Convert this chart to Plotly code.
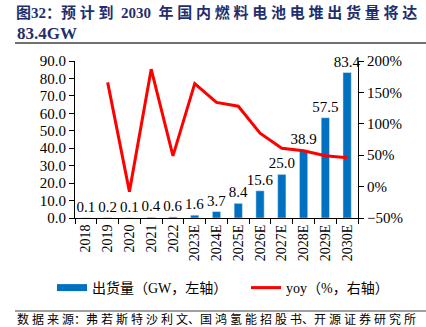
import plotly.graph_objects as go

categories = ["2018", "2019", "2020", "2021", "2022", "2023E", "2024E", "2025E",
              "2026E", "2027E", "2028E", "2029E", "2030E"]
shipments = [0.1, 0.2, 0.1, 0.4, 0.6, 1.6, 3.7, 8.4, 15.6, 25.0, 38.9, 57.5, 83.4]
yoy_cats = categories[1:]
yoy = [166, -8, 187, 49, 164, 134, 128, 85, 61, 57, 49, 46]

serif = "Times New Roman, Liberation Serif, Noto Sans CJK SC, serif"
cjk = "Liberation Serif, Noto Sans CJK SC, serif"
BLUE = "#0070C0"
RED = "#FF0000"

fig = go.Figure()
fig.add_trace(go.Bar(
    x=categories, y=shipments, name="出货量（GW，左轴）", showlegend=False,
    marker=dict(color=BLUE),
    text=[f"{v:.1f}" for v in shipments], textposition="outside",
    textfont=dict(family=serif, size=15, color="black"),
    constraintext="none", cliponaxis=False, yaxis="y",
))
# legend proxy for the bar series (wide rectangle swatch)
fig.add_trace(go.Scatter(
    x=[None], y=[None], name="出货量（GW，左轴）", mode="lines",
    line=dict(color=BLUE, width=7), legend="legend", yaxis="y",
))
fig.add_trace(go.Scatter(
    x=yoy_cats, y=yoy, name="yoy（%，右轴）", mode="lines",
    line=dict(color=RED, width=3), yaxis="y2", legend="legend2",
))

leg_common = dict(orientation="h", yanchor="middle", y=(218 - 288) / 157,
                  xanchor="left", font=dict(family=cjk, size=14, color="black"),
                  itemwidth=30, bgcolor="rgba(0,0,0,0)")

fig.update_layout(
    width=426, height=327, margin=dict(l=75, r=68, t=61, b=109),
    plot_bgcolor="white", paper_bgcolor="white",
    font=dict(family=serif, size=15, color="black"),
    bargap=0.62,
    showlegend=True,
    legend=dict(x=(52 - 75) / 283, **leg_common),
    legend2=dict(x=(246 - 75) / 283, **leg_common),
    xaxis=dict(type="category", showline=True, linecolor="black", linewidth=1,
               ticks="outside", tickson="boundaries", ticklen=5, tickcolor="black",
               tickangle=-90, tickfont=dict(family=serif, size=14), showgrid=False),
    yaxis=dict(range=[0, 90], dtick=10, tickformat=".1f", showline=True,
               linecolor="black", linewidth=1, ticks="outside", ticklen=5,
               tickcolor="black", showgrid=False, zeroline=False,
               tickfont=dict(family=serif, size=15)),
    yaxis2=dict(range=[-50, 200], dtick=50, ticksuffix="%", overlaying="y",
                side="right", showline=True, linecolor="black", linewidth=1,
                ticks="outside", ticklen=5, tickcolor="black", showgrid=False,
                zeroline=False, tickfont=dict(family=serif, size=15)),
)

TITLE_C = "#1F2F6E"
fig.add_annotation(text="<b>图32：预 计 到  2030  年 国 内 燃 料 电 池 电 堆 出 货 量 将 达</b>",
                   xref="paper", yref="paper", x=(14 - 75) / 283, y=1 + (61 - 12) / 157,
                   xanchor="left", yanchor="middle", showarrow=False,
                   font=dict(family=cjk, size=15, color=TITLE_C))
fig.add_annotation(text="<b>83.4GW</b>",
                   xref="paper", yref="paper", x=(15 - 75) / 283, y=1 + (61 - 33) / 157,
                   xanchor="left", yanchor="middle", showarrow=False,
                   font=dict(family=cjk, size=17, color=TITLE_C))
fig.add_shape(type="line", xref="paper", yref="paper",
              x0=(15 - 75) / 283, x1=1 + 68 / 283, y0=1 + (61 - 43) / 157, y1=1 + (61 - 43) / 157,
              line=dict(color="#404040", width=1.5))
fig.add_shape(type="line", xref="paper", yref="paper",
              x0=(15 - 75) / 283, x1=1 + 68 / 283, y0=(218 - 311) / 157, y1=(218 - 311) / 157,
              line=dict(color="#404040", width=1))
fig.add_annotation(text="数 据 来 源：弗 若 斯 特 沙 利 文、国 鸿 氢 能 招 股 书、开 源 证 券 研 究 所",
                   xref="paper", yref="paper", x=(15 - 75) / 283, y=(218 - 319) / 157,
                   xanchor="left", yanchor="middle", showarrow=False,
                   font=dict(family=cjk, size=12, color="black"))

fig.write_html("out.html")
